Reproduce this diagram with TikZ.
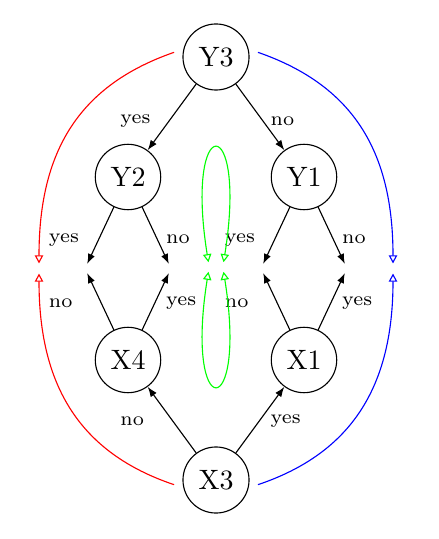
\documentclass[tikz,border=0pt]{standalone}
\usetikzlibrary{arrows.meta}
\begin{document}
\begin{tikzpicture}[x=0.35714pt, y=-0.35714pt,
  st/.style={draw, circle},
  leaf/.style={circle, inner sep=0pt, minimum size=3.2pt},
  arr/.style={-{Latex[length=3.6pt,width=2.6pt]}},
  otip/.tip={Triangle[open,length=2.9pt,width=3.0pt]},
  lbl/.style={font=\scriptsize, inner sep=0pt, anchor=west},
  lft/.style={xshift=-18.6pt},
  rgt/.style={xshift=3.6pt},
  up/.style={yshift=-1.5pt},
  dn/.style={yshift=-0.6pt}]
\useasboundingbox (0,0) rectangle (438,539);
% states
\node[st] (Y3) at (216,57) {Y3};
\node[st] (Y2) at (128,177) {Y2};
\node[st] (Y1) at (304,177) {Y1};
\node[st] (X4) at (128,360) {X4};
\node[st] (X1) at (304,360) {X1};
\node[st] (X3) at (216,480) {X3};
% leaf points
\node[leaf] (L1) at (85,268.5) {};
\node[leaf] (L2) at (171,268.5) {};
\node[leaf] (L3) at (261,268.5) {};
\node[leaf] (L4) at (347,268.5) {};
\node[leaf] (LR) at (39,268.5) {};
\node[leaf] (RR) at (393,268.5) {};
\node[inner sep=0pt, minimum width=5.0pt, minimum height=3.0pt] (gc) at (216,267) {};
% black edges
\draw[arr] (Y3) -- node[lbl, lft, up] (t1) {yes} (Y2);
\draw[arr] (Y3) -- node[lbl, rgt, up] (t2) {no} (Y1);
\draw[arr] (Y2) -- node[lbl, lft, up] (t3) {yes} (L1);
\draw[arr] (Y2) -- node[lbl, rgt, up] (t4) {no} (L2);
\draw[arr] (Y1) -- node[lbl, lft, up] (t5) {yes} (L3);
\draw[arr] (Y1) -- node[lbl, rgt, up] (t6) {no} (L4);
\draw[arr] (X4) -- node[lbl, lft, dn] (t7) {no} (L1);
\draw[arr] (X4) -- node[lbl, rgt, dn] (t8) {yes} (L2);
\draw[arr] (X1) -- node[lbl, lft, dn] (t9) {no} (L3);
\draw[arr] (X1) -- node[lbl, rgt, dn] (t10) {yes} (L4);
\draw[arr] (X3) -- node[lbl, lft, dn] (t11) {no} (X4);
\draw[arr] (X3) -- node[lbl, rgt, dn] (t12) {yes} (X1);
% red arcs
\draw[red, -otip] ([xshift=-3.1pt]Y3.172) .. controls (80,85) and (39,150) .. (LR.north);
\draw[red, -otip] ([xshift=-3.1pt]X3.188) .. controls (80,453) and (39,386) .. (LR.south);
% blue arcs
\draw[blue, -otip] ([xshift=3.1pt]Y3.8) .. controls (352,85) and (393,150) .. (RR.north);
\draw[blue, -otip] ([xshift=3.1pt]X3.352) .. controls (352,453) and (393,386) .. (RR.south);
% green loops
\draw[green, otip-otip] (gc.north west) .. controls (184,110) and (248,110) .. (gc.north east);
\draw[green, otip-otip] (gc.south west) .. controls (184,424) and (248,424) .. (gc.south east);
\end{tikzpicture}
\end{document}
